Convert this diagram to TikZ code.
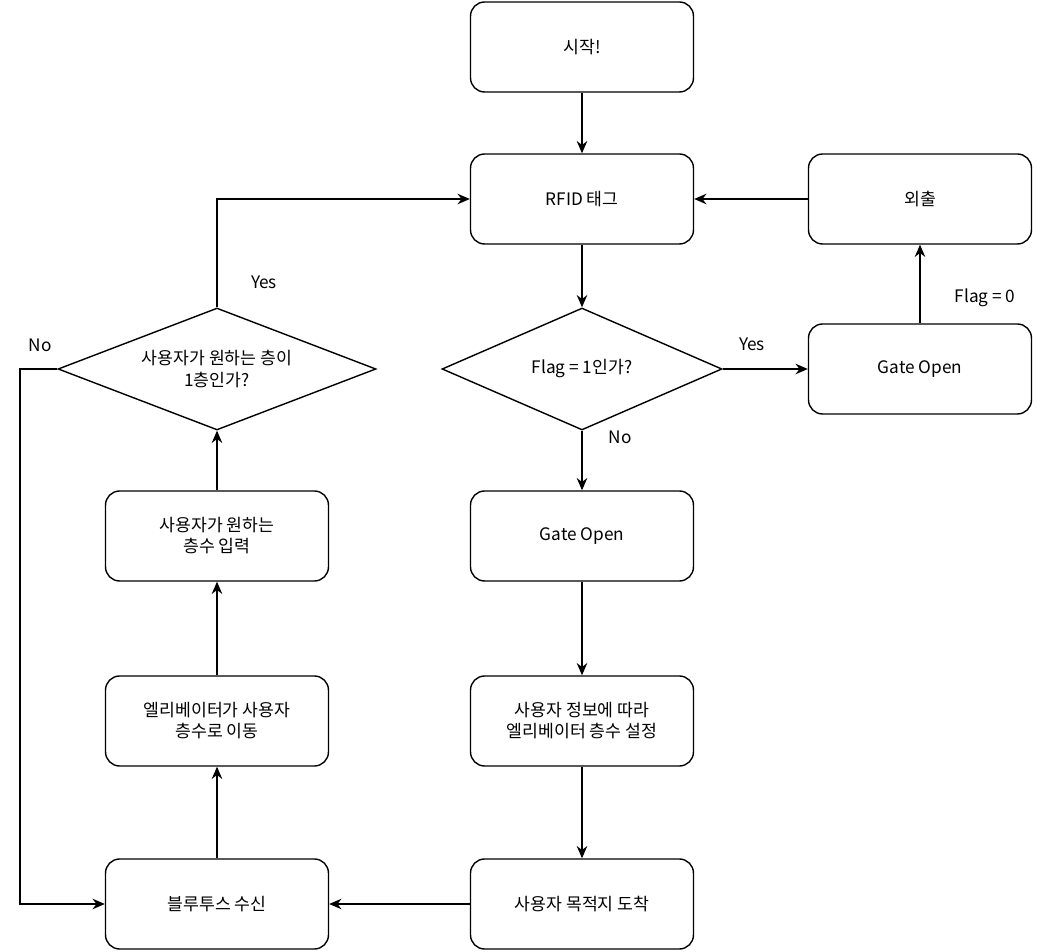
\documentclass[tikz,border=0pt]{standalone}
\usepackage{fontspec}
\setmainfont{Noto Sans CJK KR}
\usetikzlibrary{shapes.geometric,arrows.meta}
\begin{document}
\begin{tikzpicture}[x=0.02cm,y=-0.02cm,
  every path/.style={thick},
  box/.style={draw,rounded corners=8pt,minimum width=4.46cm,minimum height=1.8cm,align=center,font=\fontsize{9.8}{12}\selectfont},
  cond/.style={draw,diamond,aspect=2.3,inner sep=0pt,align=center,font=\fontsize{9.8}{12}\selectfont},
  lbl/.style={font=\fontsize{9.8}{12}\selectfont},
  >={Stealth[length=7pt,width=6pt]}]
\useasboundingbox (0,0) rectangle (1052,952);
\node[box] (start) at (582,47) {시작!};
\node[box] (rfid) at (582,199) {RFID 태그};
\node[box] (out) at (920,199) {외출};
\node[cond,minimum width=5.6cm,minimum height=2.44cm] (flag) at (582,369) {Flag = 1인가?};
\node[box] (gater) at (920,369) {Gate Open};
\node[box] (gatem) at (582,536) {Gate Open};
\node[box] (info) at (582,721) {사용자 정보에 따라\\엘리베이터 층수 설정};
\node[box] (dest) at (582,904) {사용자 목적지 도착};
\node[box] (blue) at (217,904) {블루투스 수신};
\node[box] (elev) at (217,721) {엘리베이터가 사용자\\층수로 이동};
\node[box] (input) at (217,536) {사용자가 원하는\\층수 입력};
\node[cond,minimum width=6.36cm,minimum height=2.44cm] (ask) at (217,369) {사용자가 원하는 층이\\1층인가?};
\coordinate (askup) at (217,199);
\coordinate (askl) at (20,369);
\coordinate (askd) at (20,904);
\draw[->] (start) -- (rfid);
\draw[->] (rfid) -- (flag);
\draw[->] (flag) -- (gatem);
\draw[->] (flag.east) -- (gater.west);
\draw[->] (gater) -- (out);
\draw[->] (out) -- (rfid);
\draw[->] (gatem) -- (info);
\draw[->] (info) -- (dest);
\draw[->] (dest) -- (blue);
\draw[->] (blue) -- (elev);
\draw[->] (elev) -- (input);
\draw[->] (input) -- (ask);
\draw[->] (ask.north) -- (askup) -- (rfid.west);
\draw[->] (ask.west) -- (askl) -- (askd) -- (blue.west);
\node[lbl] (no1) at (620,437) {No};
\node[lbl] (yes1) at (752,344) {Yes};
\node[lbl] (fz) at (985,298) {Flag = 0};
\node[lbl] (yes2) at (264,282) {Yes};
\node[lbl] (no2) at (40,345) {No};
\end{tikzpicture}
\end{document}
